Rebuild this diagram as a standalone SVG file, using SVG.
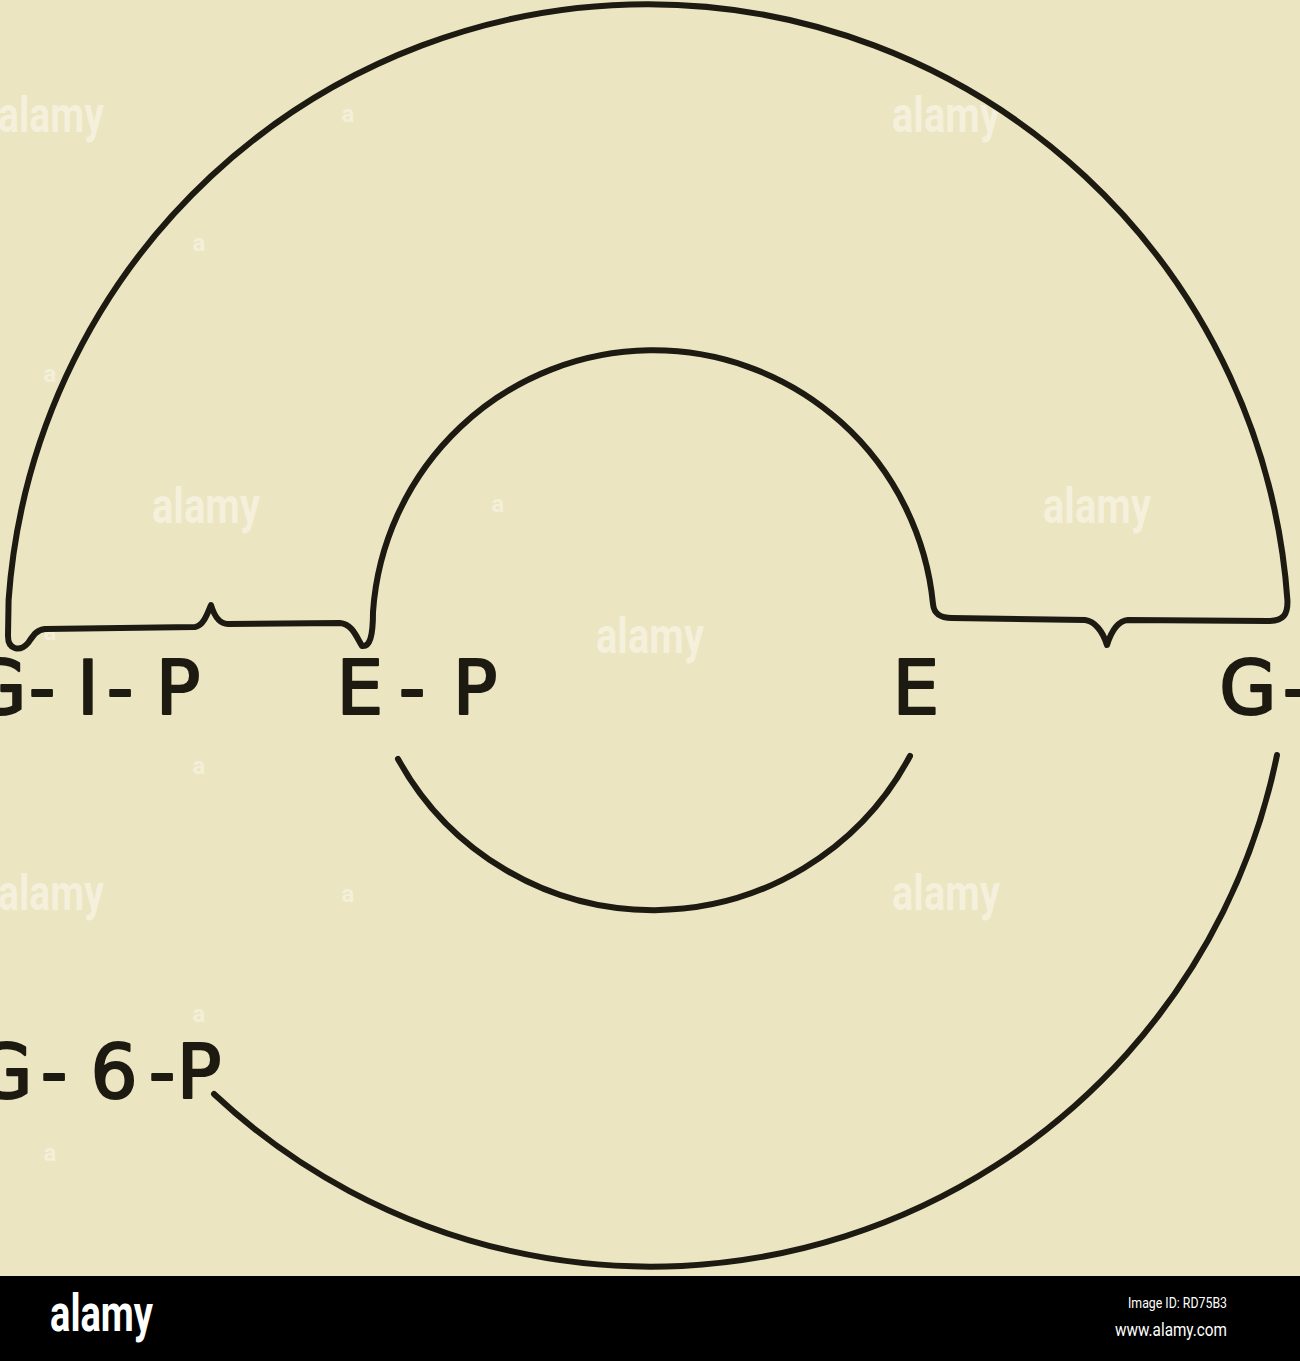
<svg xmlns="http://www.w3.org/2000/svg" width="1300" height="1361" viewBox="0 0 1300 1361">
<style>
.ln{fill:none;stroke:#1d1a12;stroke-width:6;stroke-linecap:round;stroke-linejoin:round}
.lb{font-family:"DejaVu Sans","Liberation Sans",sans-serif;font-size:74px;fill:#1d1a12;stroke:#1d1a12;stroke-width:2.2;stroke-linejoin:round;text-anchor:middle}
.wm{font-family:"Liberation Sans Narrow","Roboto","Liberation Sans",sans-serif;font-weight:bold;fill:#f6f2e0;opacity:0.85}
.wa{font-family:"Liberation Sans Narrow","Roboto","Liberation Sans",sans-serif;font-weight:bold;font-size:24px;fill:#f6f2e0;opacity:0.8;text-anchor:middle}
.ft{font-family:"Liberation Sans Narrow","Roboto","Liberation Sans",sans-serif;fill:#ffffff}
</style>
<rect x="0" y="0" width="1300" height="1361" fill="#ece5c1"/>
<g id="watermarks">
<text class="wm" x="-2" y="132" font-size="50" textLength="106" lengthAdjust="spacingAndGlyphs">alamy</text>
<text class="wm" x="892" y="132" font-size="50" textLength="108" lengthAdjust="spacingAndGlyphs">alamy</text>
<text class="wm" x="152" y="523" font-size="50" textLength="108" lengthAdjust="spacingAndGlyphs">alamy</text>
<text class="wm" x="1043" y="523" font-size="50" textLength="108" lengthAdjust="spacingAndGlyphs">alamy</text>
<text class="wm" x="596" y="653" font-size="50" textLength="108" lengthAdjust="spacingAndGlyphs">alamy</text>
<text class="wm" x="-2" y="910" font-size="50" textLength="106" lengthAdjust="spacingAndGlyphs">alamy</text>
<text class="wm" x="892" y="910" font-size="50" textLength="108" lengthAdjust="spacingAndGlyphs">alamy</text>
<text class="wa" x="348 647 1248" y="122">a</text>
<text class="wa" x="199 498 798 1099" y="251">a</text>
<text class="wa" x="50 348 647 948 1248" y="382">a</text>
<text class="wa" x="498 798" y="512">a</text>
<text class="wa" x="50 348 948 1248" y="640">a</text>
<text class="wa" x="199 498 798 1099" y="774">a</text>
<text class="wa" x="348 647 1248" y="902">a</text>
<text class="wa" x="199 498 798 1099" y="1022">a</text>
<text class="wa" x="50 348 647 948 1248" y="1161">a</text>
</g>
<g id="connectors">
<path id="upper-loop" class="ln" d="M 373 612 A 281 281 0 0 1 933 604 C 934 614 940 618 952 618 L 1085 620 C 1095 621 1103 632 1107 645 C 1111 632 1118 621 1128 620 L 1268 621 C 1284 621 1288 614 1287.4 600 A 641 641 0 0 0 8.6 600 L 8 636 C 8 650 20 652 28 643 C 33 636 36 630 45 629 L 195 627 C 203 626 207 615 211 605 C 214 615 219 624 228 624 L 340 623 C 352 624 356 636 362 646 C 370 647 373 636 373 612 Z"/>
<path id="inner-lower" class="ln" d="M 398 759 A 291 291 0 0 0 910 756"/>
<path id="outer-lower" class="ln" d="M 214 1094 A 639 639 0 0 0 1277 755"/>
</g>
<g id="node-g1p"><text class="lb" x="-2 42 88 120 178" y="714">G-I-P</text></g>
<g id="node-ep"><text class="lb" x="360 412 475" y="714">E-P</text></g>
<g id="node-e"><text class="lb" x="916" y="714">E</text></g>
<g id="node-g"><text class="lb" x="1248 1296" y="714">G-</text></g>
<g id="node-g6p"><text class="lb" x="4 54 114 162 199" y="1098">G-6-P</text></g>
<g id="footer">
<rect x="0" y="1276" width="1300" height="85" fill="#000000"/>
<text class="ft" x="50" y="1331" font-size="52" font-weight="bold" textLength="103" lengthAdjust="spacingAndGlyphs">alamy</text>
<text class="ft" x="1227" y="1308" font-size="15" text-anchor="end" textLength="99" lengthAdjust="spacingAndGlyphs">Image ID: RD75B3</text>
<text class="ft" x="1227" y="1336" font-size="18" text-anchor="end" textLength="112" lengthAdjust="spacingAndGlyphs">www.alamy.com</text>
</g>
</svg>
